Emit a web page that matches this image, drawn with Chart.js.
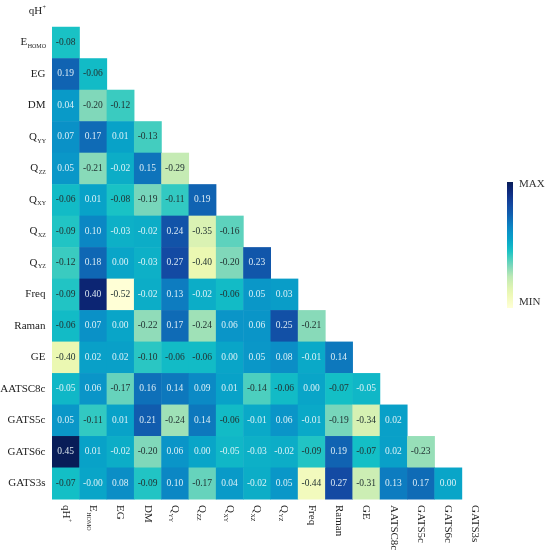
<!DOCTYPE html>
<html>
<head>
  <title>Correlation Heatmap</title>
  <script src="https://cdn.jsdelivr.net/npm/chart.js"></script>
  <style>
    body { margin: 0; background: #fff; }
    #wrap { width: 545px; height: 550px; }
  </style>
</head>
<body>
  <div id="wrap"><canvas id="heatChart"></canvas></div>
  <script>
    // variable names as [main, subscript, superscript]
    const names = [
      ['qH', '', '+'], ['E', 'HOMO', ''], ['EG', '', ''], ['DM', '', ''],
      ['Q', 'YY', ''], ['Q', 'ZZ', ''], ['Q', 'XY', ''], ['Q', 'XZ', ''],
      ['Q', 'YZ', ''], ['Freq', '', ''], ['Raman', '', ''], ['GE', '', ''],
      ['AATSC8c', '', ''], ['GATS5c', '', ''], ['GATS6c', '', ''], ['GATS3s', '', '']
    ];

    // lower triangle, one array per row (row i has i values)
    const rowEHOMO = [-0.08];
    const rowEG = [0.19, -0.06];
    const rowDM = [0.04, -0.20, -0.12];
    const rowQYY = [0.07, 0.17, 0.01, -0.13];
    const rowQZZ = [0.05, -0.21, -0.02, 0.15, -0.29];
    const rowQXY = [-0.06, 0.01, -0.08, -0.19, -0.11, 0.19];
    const rowQXZ = [-0.09, 0.10, -0.03, -0.02, 0.24, -0.35, -0.16];
    const rowQYZ = [-0.12, 0.18, 0.00, -0.03, 0.27, -0.40, -0.20, 0.23];
    const rowFreq = [-0.09, 0.40, -0.52, -0.02, 0.13, -0.02, -0.06, 0.05, 0.03];
    const rowRaman = [-0.06, 0.07, 0.00, -0.22, 0.17, -0.24, 0.06, 0.06, 0.25, -0.21];
    const rowGE = [-0.40, 0.02, 0.02, -0.10, -0.06, -0.06, 0.00, 0.05, 0.08, -0.01, 0.14];
    const rowAATSC8c = [-0.05, 0.06, -0.17, 0.16, 0.14, 0.09, 0.01, -0.14, -0.06, 0.00, -0.07, -0.05];
    const rowGATS5c = [0.05, -0.11, 0.01, 0.21, -0.24, 0.14, -0.06, -0.01, 0.06, -0.01, -0.19, -0.34, 0.02];
    const rowGATS6c = [0.45, 0.01, -0.02, -0.20, 0.06, 0.00, -0.05, -0.03, -0.02, -0.09, 0.19, -0.07, 0.02, -0.23];
    const rowGATS3s = [-0.07, -0, 0.08, -0.09, 0.10, -0.17, 0.04, -0.02, 0.05, -0.44, 0.27, -0.31, 0.13, 0.17, 0.00];

    const rows = [[], rowEHOMO, rowEG, rowDM, rowQYY, rowQZZ, rowQXY, rowQXZ, rowQYZ,
      rowFreq, rowRaman, rowGE, rowAATSC8c, rowGATS5c, rowGATS6c, rowGATS3s];

    const vmin = -0.52, vmax = 0.45;
    // colour stops tuned to the reference palette (light yellow -> cyan -> navy)
    const stops = [
      [0.00, [255, 255, 214]], [0.12, [236, 248, 178]], [0.24, [196, 235, 180]],
      [0.33, [128, 216, 186]], [0.41, [60, 204, 192]], [0.46, [20, 192, 198]],
      [0.54, [8, 164, 200]], [0.60, [10, 148, 200]], [0.66, [12, 128, 194]],
      [0.74, [16, 96, 176]], [0.83, [20, 70, 160]], [0.93, [14, 40, 124]],
      [1.00, [8, 29, 88]]
    ];

    function colorAt(t) {
      t = Math.max(0, Math.min(1, t));
      for (let k = 1; k < stops.length; k++) {
        if (t <= stops[k][0]) {
          const a = stops[k - 1], b = stops[k];
          const f = (t - a[0]) / (b[0] - a[0]);
          const c = a[1].map((v, n) => Math.round(v + (b[1][n] - v) * f));
          return 'rgb(' + c.join(',') + ')';
        }
      }
      return 'rgb(8,29,88)';
    }

    const cells = [];
    rows.forEach((r, i) => r.forEach((v, j) => cells.push({ x: j, y: i, v: v })));

    const serif = '"Liberation Serif", "DejaVu Serif", serif';

    function drawName(ctx, parts, x, y, align) {
      const [main, sub, sup] = parts;
      ctx.font = '11px ' + serif;
      const wm = ctx.measureText(main).width;
      ctx.font = '6px ' + serif;
      const ws = ctx.measureText(sub || sup).width;
      let x0 = align === 'right' ? x - wm - ws - 0.5 : x;
      ctx.textAlign = 'left';
      ctx.textBaseline = 'middle';
      ctx.fillStyle = '#222';
      ctx.font = '11px ' + serif;
      ctx.fillText(main, x0, y);
      ctx.font = '6px ' + serif;
      if (sub) ctx.fillText(sub, x0 + wm + 0.5, y + 4);
      if (sup) ctx.fillText(sup, x0 + wm + 0.5, y - 4);
    }

    const heatPlugin = {
      id: 'heat',
      beforeDatasetsDraw(chart) {
        const ctx = chart.ctx, xs = chart.scales.x, ys = chart.scales.y;
        ctx.save();
        chart.data.datasets[0].data.forEach(c => {
          const x1 = xs.getPixelForValue(c.x - 0.5), x2 = xs.getPixelForValue(c.x + 0.5);
          const y1 = ys.getPixelForValue(c.y - 0.5), y2 = ys.getPixelForValue(c.y + 0.5);
          ctx.fillStyle = colorAt((c.v - vmin) / (vmax - vmin));
          ctx.fillRect(x1, y1, x2 - x1 + 0.5, y2 - y1 + 0.5);
        });
        ctx.font = '9.5px ' + serif;
        ctx.textAlign = 'center';
        ctx.textBaseline = 'middle';
        chart.data.datasets[0].data.forEach(c => {
          let txt = c.v.toFixed(2);
          if (c.v === 0 && 1 / c.v < 0) txt = '-0.00';
          ctx.fillStyle = c.v < -0.055 ? '#233' : 'rgba(240,250,252,0.9)';
          ctx.fillText(txt, xs.getPixelForValue(c.x), ys.getPixelForValue(c.y));
        });
        ctx.restore();
      },
      afterDraw(chart) {
        const ctx = chart.ctx, xs = chart.scales.x, ys = chart.scales.y;
        ctx.save();
        names.forEach((p, i) => drawName(ctx, p, 46, ys.getPixelForValue(i), 'right'));
        names.forEach((p, i) => {
          ctx.save();
          ctx.translate(xs.getPixelForValue(i), chart.chartArea.bottom + 6);
          ctx.rotate(Math.PI / 2);
          drawName(ctx, p, 0, 0, 'left');
          ctx.restore();
        });
        // colour bar
        const bx = 507, bw = 6, top = 182, bottom = 308;
        const g = ctx.createLinearGradient(0, bottom, 0, top);
        for (let k = 0; k <= 20; k++) g.addColorStop(k / 20, colorAt(k / 20));
        ctx.fillStyle = g;
        ctx.fillRect(bx, top, bw, bottom - top);
        ctx.fillStyle = '#333';
        ctx.font = '11px ' + serif;
        ctx.textAlign = 'left';
        ctx.textBaseline = 'middle';
        ctx.fillText('MAX', bx + 12, top + 2);
        ctx.fillText('MIN', bx + 12, bottom - 6);
        ctx.restore();
      }
    };

    new Chart(document.getElementById('heatChart'), {
      type: 'scatter',
      data: { datasets: [{ data: cells, pointRadius: 0, pointHoverRadius: 0 }] },
      options: {
        responsive: true,
        maintainAspectRatio: false,
        animation: false,
        layout: { padding: { left: 52, right: 56, top: 0, bottom: 51 } },
        plugins: { legend: { display: false }, tooltip: { enabled: false } },
        scales: {
          x: { type: 'linear', min: -0.5, max: 15.5, display: false },
          y: { type: 'linear', min: -0.35, max: 15.5, reverse: true, display: false }
        }
      },
      plugins: [heatPlugin]
    });
  </script>
</body>
</html>
